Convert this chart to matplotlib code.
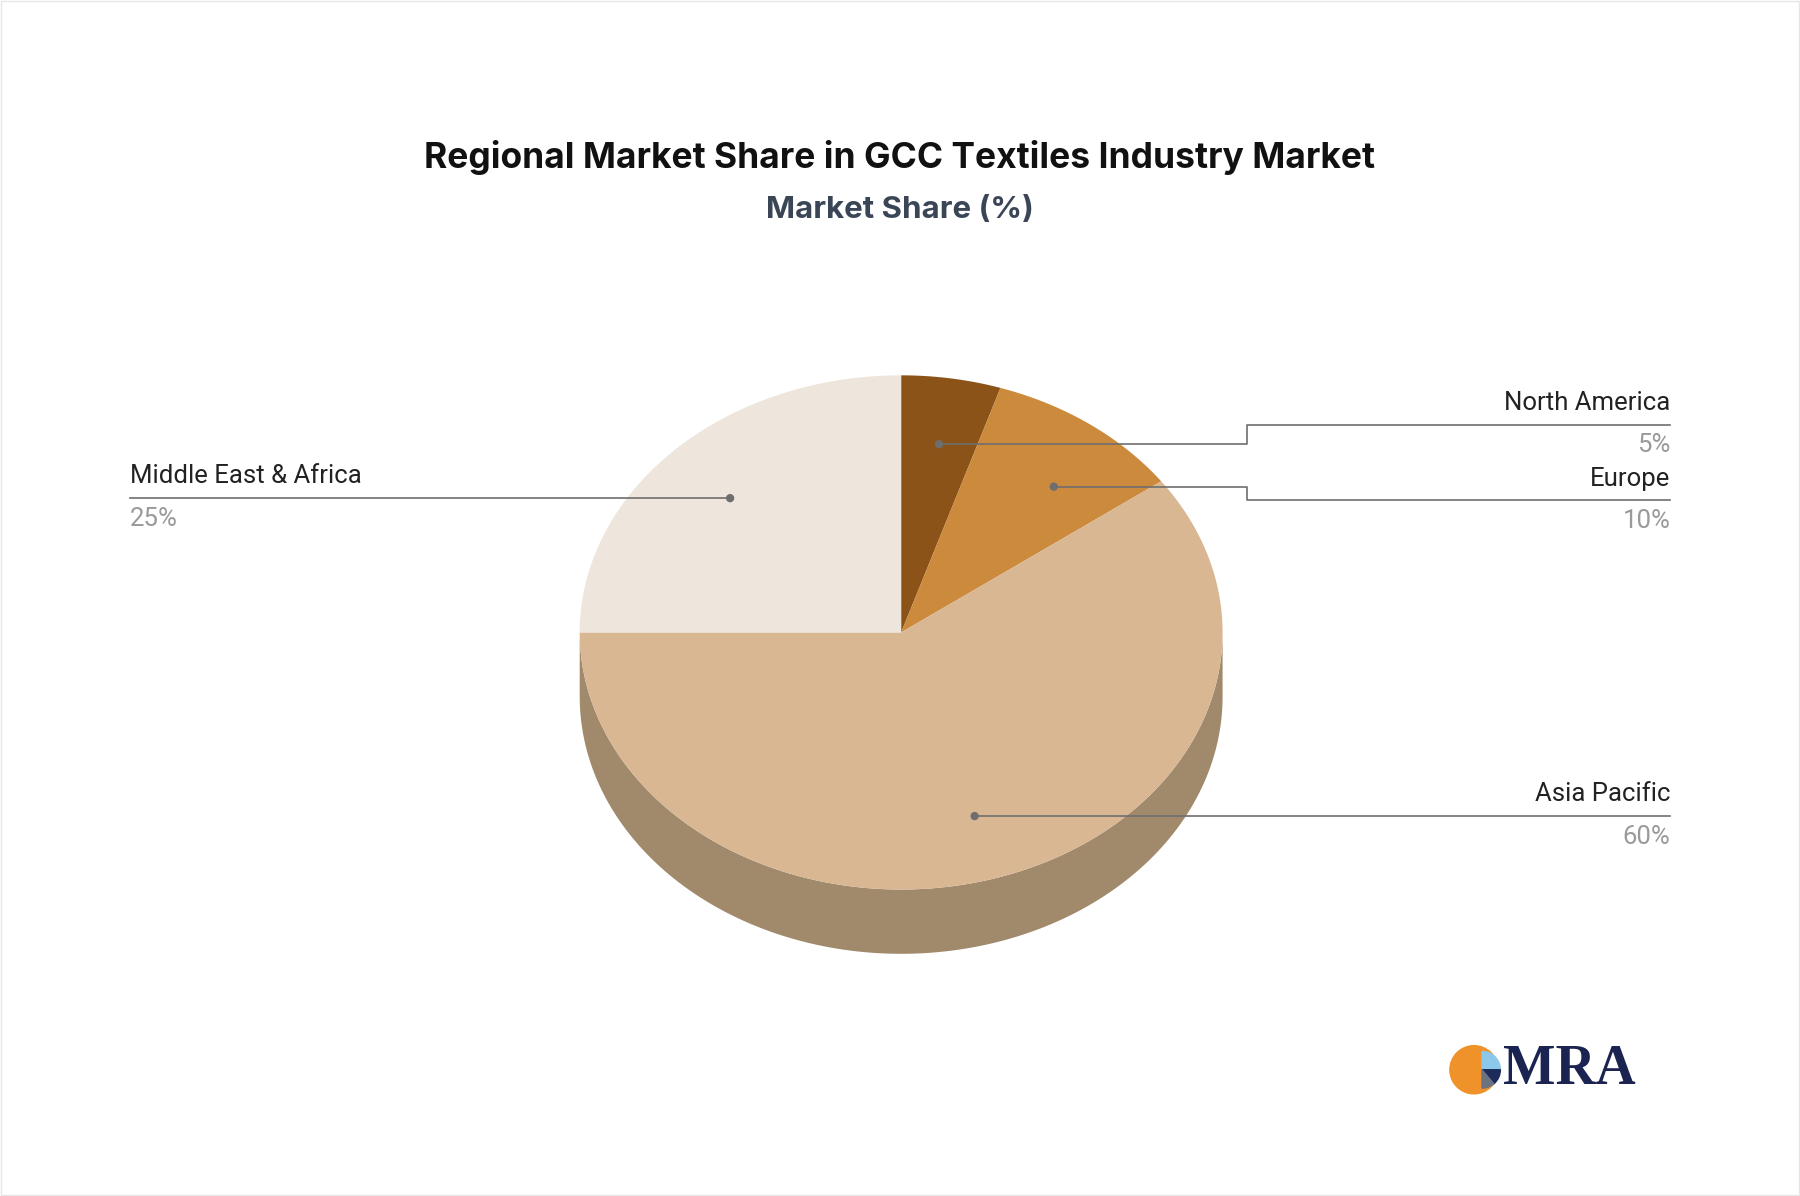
import numpy as np
import matplotlib.pyplot as plt
from matplotlib.patches import Polygon, Circle, Wedge, Rectangle

regions = ['North America', 'Europe', 'Asia Pacific', 'Middle East & Africa']
shares = [5, 10, 60, 25]
colors = ['#8B5318', '#CB8A3C', '#D8B792', '#EEE5DC']
side_color = '#A1896B'

W, H = 1568, 1042
fig = plt.figure(figsize=(18, 11.96), dpi=100)
ax = fig.add_axes([0, 0, 1, 1])
ax.set_xlim(0, W)
ax.set_ylim(H, 0)
ax.axis('off')
ax.add_patch(Rectangle((1, 1), W - 2, H - 2, fill=False, ec='#E6E6E6', lw=1))

cx, cy, rx, ry, depth = 785, 551, 280, 224, 56


def pt(t, dy=0):
    return cx + rx * np.cos(np.radians(t)), cy - ry * np.sin(np.radians(t)) + dy


# side of the disc (front half)
ts = np.linspace(180, 360, 200)
top = [pt(t) for t in ts]
bot = [pt(t, depth) for t in ts[::-1]]
ax.add_patch(Polygon(top + bot, closed=True, fc=side_color, ec='none'))

# slices, clockwise from top
start = 90
for share, col in zip(shares, colors):
    sweep = share * 3.6
    ts = np.linspace(start, start - sweep, 200)
    ax.add_patch(Polygon([(cx, cy)] + [pt(t) for t in ts], closed=True, fc=col, ec='none'))
    start -= sweep

# leader lines and labels
line_c = '#6E6E6E'
fs_lab = 18.5
pct_c = '#9A9A9A'
leaders = [
    ([(818, 387), (1086, 387), (1086, 370), (1455, 370)], 'right'),
    ([(918, 424), (1086, 424), (1086, 436), (1455, 436)], 'right'),
    ([(849, 711), (1455, 711)], 'right'),
    ([(636, 434), (113, 434)], 'left'),
]
for name, share, (pts, ha) in zip(regions, shares, leaders):
    xs, ys = zip(*pts)
    ax.plot(xs, ys, color=line_c, lw=1.2)
    ax.add_patch(Circle(pts[0], 3, color=line_c))
    x, y = pts[-1]
    ax.text(x, y - 19, name, ha=ha, va='center', fontsize=fs_lab, color='#222222', family='Roboto')
    ax.text(x, y + 18, f'{share}%', ha=ha, va='center', fontsize=fs_lab, color=pct_c, family='Roboto')

ax.text(784, 137, 'Regional Market Share in GCC Textiles Industry Market', ha='center', va='center',
        fontsize=25.5, fontweight='bold', color='#111111', family='Inter')
ax.text(784, 183, 'Market Share (%)', ha='center', va='center',
        fontsize=22.5, fontweight='bold', color='#3A4556', family='Inter')

# logo
ax.add_patch(Circle((1284, 932), 21, color='#F0922A'))
ax.add_patch(Wedge((1291, 932), 16, -90, 0, color='#8CC8EA'))
ax.add_patch(Wedge((1291, 932), 16, 0, 50, color='#1D2B5A'))
ax.add_patch(Wedge((1291, 932), 16, 50, 90, color='#6B7280'))
ax.text(1367, 932, 'MRA', ha='center', va='center', fontsize=40, color='#1B2350',
        family='Liberation Serif', fontweight='bold')

fig.savefig('out.png', dpi=100, facecolor='white')
